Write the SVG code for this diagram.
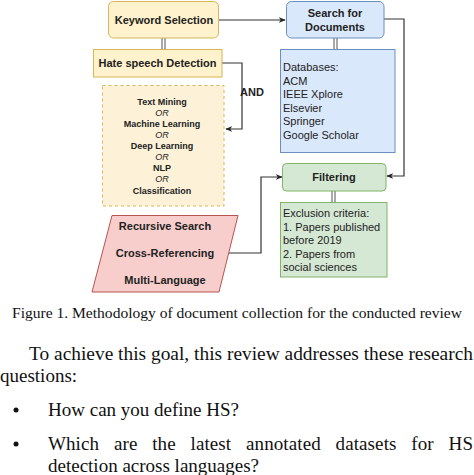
<svg xmlns="http://www.w3.org/2000/svg" width="474" height="475" viewBox="0 0 474 475">
<defs>
<marker id="arr" viewBox="0 0 10 10" refX="9" refY="5" markerWidth="7" markerHeight="7" orient="auto" markerUnits="userSpaceOnUse">
<path d="M0,1 L10,5 L0,9 L3,5 Z" fill="#222"/>
</marker>
<style>
.yel{fill:#fff2cc;stroke:#d6b656;stroke-width:1}
.yeld{fill:#fdf2d8;stroke:#d6b656;stroke-width:1;stroke-dasharray:3 3}
.blu{fill:#dae8fc;stroke:#6c8ebf;stroke-width:1}
.grn{fill:#d5e8d4;stroke:#82b366;stroke-width:1}
.red{fill:#f8cecc;stroke:#b85450;stroke-width:1}
.b{font-family:"Liberation Sans",Arial,sans-serif;font-weight:bold;font-size:11px;fill:#222;text-anchor:middle}
.r{font-family:"Liberation Sans",Arial,sans-serif;font-size:11px;fill:#222}
.s{font-family:"Liberation Sans",Arial,sans-serif;font-weight:bold;font-size:9px;fill:#222;text-anchor:middle}
.si{font-family:"Liberation Sans",Arial,sans-serif;font-style:italic;font-size:9px;fill:#222;text-anchor:middle}
.t{font-family:"Liberation Serif","Times New Roman",serif;fill:#111}
.c{fill:none;stroke:#333;stroke-width:1.2}
.d{fill:none;stroke:#555;stroke-width:1}
</style>
</defs>
<g id="connectors">
<path class="c" d="M219,20 H285" marker-end="url(#arr)"/>
<path class="c" d="M222,63 H242 V129 H226" marker-end="url(#arr)"/>
<path class="c" d="M229,253 H261 V177 H282" marker-end="url(#arr)"/>
<path class="c" d="M384,19 H404 V176 H387" marker-end="url(#arr)"/>
<path class="d" d="M162,38 V49 M165,38 V49"/>
<path class="d" d="M334,38 V49 M337,38 V49"/>
<path class="d" d="M332,191 V202 M335,191 V202"/>
<text class="b" x="252" y="96">AND</text>
</g>
<g id="keyword">
<rect class="yel" x="108.5" y="1.5" width="110" height="36.5" rx="5"/>
<text class="b" x="164" y="24">Keyword Selection</text>
</g>
<g id="hate">
<rect class="yel" x="93.5" y="49.5" width="128.5" height="27.5"/>
<text class="b" x="157.5" y="67">Hate speech Detection</text>
</g>
<g id="methods">
<rect class="yeld" x="102.5" y="85.5" width="121.5" height="120.5"/>
<text class="s" x="162" y="105">Text Mining</text>
<text class="si" x="162" y="116">OR</text>
<text class="s" x="162" y="127">Machine Learning</text>
<text class="si" x="162" y="138">OR</text>
<text class="s" x="162" y="149">Deep Learning</text>
<text class="si" x="162" y="160">OR</text>
<text class="s" x="162" y="171">NLP</text>
<text class="si" x="162" y="182">OR</text>
<text class="s" x="162" y="194">Classification</text>
</g>
<g id="strategies">
<polygon class="red" points="112,215.5 238,215.5 219,292 92,292"/>
<text class="b" x="165" y="230">Recursive Search</text>
<text class="b" x="165" y="257">Cross-Referencing</text>
<text class="b" x="165" y="284">Multi-Language</text>
</g>
<g id="search">
<rect class="blu" x="286.5" y="1.5" width="97.5" height="36.5" rx="5"/>
<text class="b" x="335" y="17">Search for</text>
<text class="b" x="335" y="31">Documents</text>
</g>
<g id="databases">
<rect class="blu" x="280.5" y="49.5" width="114.5" height="103"/>
<text class="r" x="283" y="71">Databases:</text>
<text class="r" x="283" y="85">ACM</text>
<text class="r" x="283" y="98">IEEE Xplore</text>
<text class="r" x="283" y="112">Elsevier</text>
<text class="r" x="283" y="125">Springer</text>
<text class="r" x="283" y="139">Google Scholar</text>
</g>
<g id="filtering">
<rect class="grn" x="282.5" y="163.5" width="103.5" height="27.5" rx="4"/>
<text class="b" x="334" y="181">Filtering</text>
</g>
<g id="exclusion">
<rect class="grn" x="280.5" y="202.5" width="106.5" height="74.5"/>
<text class="r" x="283" y="217">Exclusion criteria:</text>
<text class="r" x="283" y="231">1. Papers published</text>
<text class="r" x="283" y="244">before 2019</text>
<text class="r" x="283" y="258">2.  Papers from</text>
<text class="r" x="283" y="271">social sciences</text>
</g>
<g id="body">
<text class="t" x="12" y="318" font-size="14" textLength="450" lengthAdjust="spacingAndGlyphs">Figure 1. Methodology of document collection for the conducted review</text>
<text class="t" x="29" y="360" font-size="19" textLength="444" lengthAdjust="spacingAndGlyphs">To achieve this goal, this review addresses these research</text>
<text class="t" x="0" y="382" font-size="19">questions:</text>
<circle cx="16" cy="410" r="2.5" fill="#111"/>
<text class="t" x="48" y="416" font-size="19">How can you define HS?</text>
<circle cx="16" cy="444" r="2.5" fill="#111"/>
<text class="t" x="48" y="450" font-size="19" textLength="425" word-spacing="10">Which are the latest annotated datasets for HS</text>
<text class="t" x="48" y="472" font-size="19">detection across languages?</text>
</g>
</svg>
